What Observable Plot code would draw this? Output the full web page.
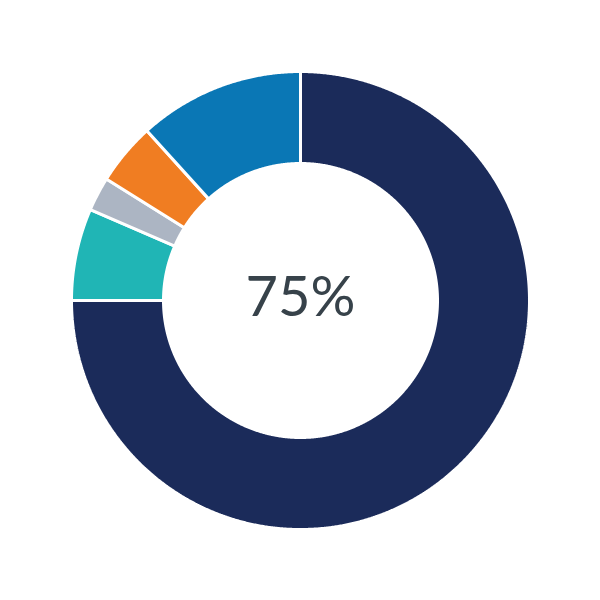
<!DOCTYPE html>
<html>
<head>
<meta charset="utf-8">
<script src="https://cdn.jsdelivr.net/npm/d3@7"></script>
<script src="https://cdn.jsdelivr.net/npm/@observablehq/plot@0.6"></script>
<style>
  html, body { margin: 0; padding: 0; background: #fff; }
</style>
</head>
<body>
<div id="chart"></div>
<script>
const categories = ["A", "B", "C", "D", "E"];
const values = [75, 6.5, 2.4, 4.4, 11.7];
const colors = ["#1b2b5a", "#20b5b5", "#acb5c3", "#f07d22", "#0a77b5"];
const centerLabel = "75%";

const outerR = 229, innerR = 137;
const pie = d3.pie().sort(null).value(d => d.value);
const arcs = pie(categories.map((c, i) => ({category: c, value: values[i]})));

const pts = [];
for (const a of arcs) {
  const n = Math.max(2, Math.ceil((a.endAngle - a.startAngle) / 0.005));
  const ring = [];
  for (let k = 0; k <= n; k++) {
    const t = a.startAngle + (a.endAngle - a.startAngle) * k / n;
    ring.push([Math.sin(t) * outerR, Math.cos(t) * outerR]);
  }
  for (let k = n; k >= 0; k--) {
    const t = a.startAngle + (a.endAngle - a.startAngle) * k / n;
    ring.push([Math.sin(t) * innerR, Math.cos(t) * innerR]);
  }
  ring.push(ring[0]);
  for (const [x, y] of ring) pts.push({category: a.data.category, x, y});
}

const chart = Plot.plot({
  width: 600,
  height: 600,
  margin: 0,
  x: {domain: [-300, 300], axis: null},
  y: {domain: [-300, 300], axis: null},
  color: {domain: categories, range: colors},
  marks: [
    Plot.line(pts, {x: "x", y: "y", z: "category", fill: "category", stroke: "white", strokeWidth: 3, strokeLinejoin: "miter"}),
    Plot.text([centerLabel], {x: 0, y: 2, text: d => d, fontSize: 56, fill: "#37424a", fontFamily: "Lato", fontWeight: 400})
  ]
});
document.getElementById("chart").append(chart);
</script>
</body>
</html>
